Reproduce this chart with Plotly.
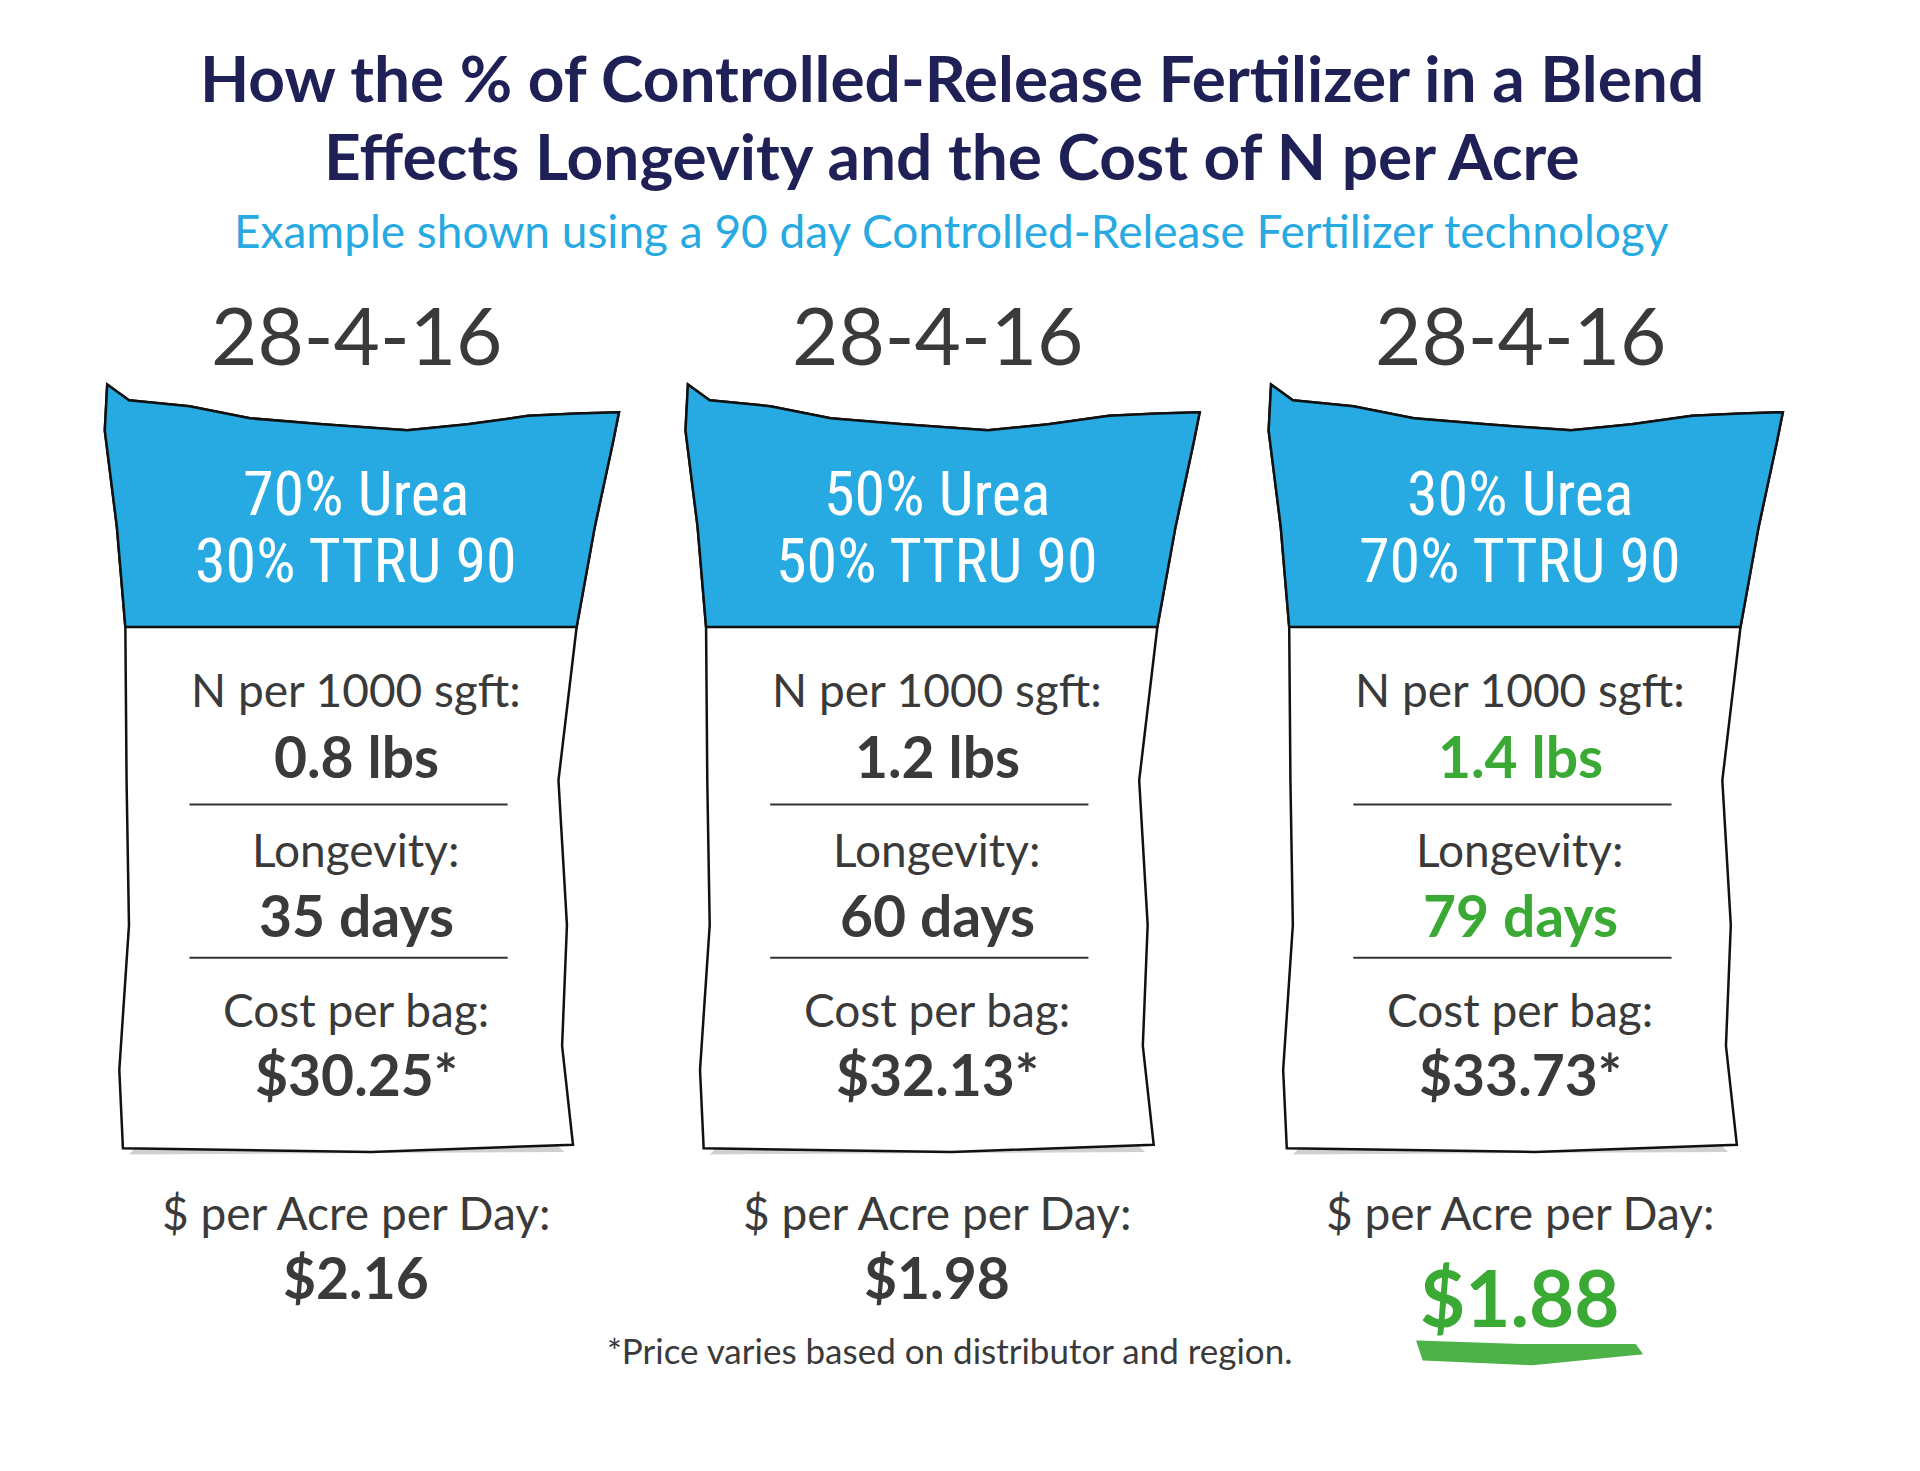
import plotly.graph_objects as go

W, H = 1587, 1219  # design units (scaled to 1920x1471)
title_lines = ["How the % of Controlled-Release Fertilizer in a Blend",
               "Effects Longevity and the Cost of N per Acre"]
subtitle = "Example shown using a 90 day Controlled-Release Fertilizer technology"
grades = ["28-4-16", "28-4-16", "28-4-16"]
urea = ["70% Urea", "50% Urea", "30% Urea"]
ttru = ["30% TTRU 90", "50% TTRU 90", "70% TTRU 90"]
n_per_1000 = ["0.8 lbs", "1.2 lbs", "1.4 lbs"]
longevity = ["35 days", "60 days", "79 days"]
cost_bag = ["$30.25*", "$32.13*", "$33.73*"]
per_acre_day = ["$2.16", "$1.98", "$1.88"]
highlight = [False, False, True]
footnote = "*Price varies based on distributor and region."

NAVY = "#1f2156"; BLUE = "#27a9e1"; GRAY = "#3a3a3a"; GREEN = "#3aaa35"
FONT = "Lato"
offsets = [0, 480, 962]
centers = [288, 768, 1250]

fig = go.Figure()
shapes, ann = [], []

def path(pts, close=True):
    s = "M " + " L ".join(f"{x},{y}" for x, y in pts)
    return s + (" Z" if close else "")

for i, dx in enumerate(offsets):
    top = [(82, 312), (100, 325), (150, 330), (200, 340), (260, 345), (330, 350),
           (380, 345), (430, 338), (470, 336), (505, 335)]
    top = [(x + dx, y) for x, y in top]
    shapes.append(dict(type="path", path=path([(110+dx, 940), (200+dx, 925), (300+dx, 930),
                  (440+dx, 930), (460+dx, 948), (100+dx, 950)]),
                  fillcolor="rgba(120,120,120,0.35)", line=dict(width=0), layer="below"))
    body = top + [(500+dx, 360), (485+dx, 430), (470+dx, 513), (455+dx, 640),
                  (462+dx, 760), (458+dx, 860), (467+dx, 942), (300+dx, 948),
                  (95+dx, 945), (92+dx, 880), (100+dx, 760), (98+dx, 640),
                  (97+dx, 513), (90+dx, 430), (80+dx, 350)]
    shapes.append(dict(type="path", path=path(body), fillcolor="white",
                       line=dict(color="#111", width=2.5)))
    blue = top + [(500+dx, 360), (485+dx, 430), (470+dx, 513), (97+dx, 513),
                  (90+dx, 430), (80+dx, 350)]
    shapes.append(dict(type="path", path=path(blue), fillcolor=BLUE,
                       line=dict(color="#111", width=2.5)))
    for yl in (660, 787):
        shapes.append(dict(type="line", x0=150+dx, x1=413+dx, y0=yl, y1=yl,
                           line=dict(color="#333", width=2)))
    c = centers[i]
    col = GREEN if highlight[i] else GRAY
    def A(y, t, size, color=GRAY, bold=False, fam=FONT):
        ann.append(dict(x=c, y=y, text=f"<b>{t}</b>" if bold else t, showarrow=False,
                        font=dict(size=size, color=color, family=fam),
                        xanchor="center", yanchor="middle"))
    A(270, grades[i], 80)
    A(402, urea[i], 62, "white", fam="Roboto Condensed, Roboto")
    A(458, ttru[i], 62, "white", fam="Roboto Condensed, Roboto")
    A(565, "N per 1000 sgft:", 46)
    A(620, n_per_1000[i], 57, col, True)
    A(697, "Longevity:", 46)
    A(752, longevity[i], 57, col, True)
    A(830, "Cost per bag:", 46)
    A(883, cost_bag[i], 57, GRAY, True)
    A(998, "$ per Acre per Day:", 46)
    if highlight[i]:
        A(1068, per_acre_day[i], 78, GREEN, True)
        shapes.append(dict(type="path", path=path([(1165, 1105), (1250, 1108), (1345, 1108),
                      (1350, 1115), (1260, 1124), (1170, 1120)]),
                      fillcolor=GREEN, line=dict(color=GREEN, width=2), opacity=0.9))
    else:
        A(1052, per_acre_day[i], 57, GRAY, True)

for t, y in zip(title_lines, [58, 122]):
    ann.append(dict(x=780, y=y, text=f"<b>{t}</b>", showarrow=False,
                    font=dict(size=64, color=NAVY, family=FONT)))
ann.append(dict(x=780, y=184, text=subtitle, showarrow=False,
                font=dict(size=46, color=BLUE, family=FONT)))
ann.append(dict(x=778, y=1112, text=footnote, showarrow=False,
                font=dict(size=35, color=GRAY, family=FONT)))

fig.update_layout(width=1920, height=1471, margin=dict(l=0, r=0, t=0, b=0),
                  paper_bgcolor="white", plot_bgcolor="white",
                  xaxis=dict(range=[0, W], visible=False, fixedrange=True),
                  yaxis=dict(range=[H, 0], visible=False, fixedrange=True),
                  shapes=shapes, annotations=ann, showlegend=False)
fig.write_html("out.html")
